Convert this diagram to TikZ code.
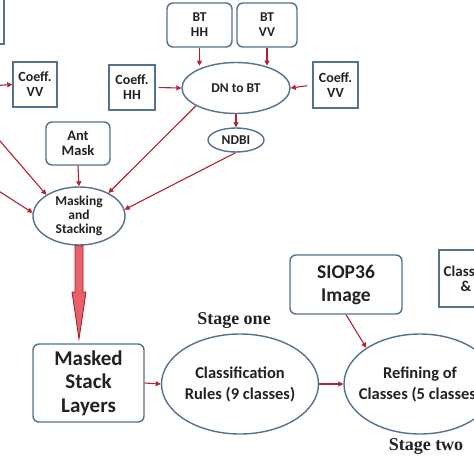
\documentclass[tikz,border=0pt]{standalone}
\usepackage{fontspec}
\setmainfont{Carlito}
\newfontfamily\stagefont{Liberation Serif}
\usetikzlibrary{arrows.meta,shapes.geometric,calc}
\definecolor{boxblue}{RGB}{84,114,142}
\definecolor{linkred}{RGB}{178,34,52}
\definecolor{fatred}{RGB}{232,96,106}
\definecolor{txt}{RGB}{34,34,34}

\begin{document}
\begin{tikzpicture}[x=1pt,y=-1pt,
  rbox/.style={draw=boxblue,line width=1.4pt,rounded corners=6pt,fill=white,align=center,inner sep=0pt,text=txt},
  sbox/.style={draw=boxblue,line width=1.4pt,fill=white,align=center,inner sep=0pt,text=txt},
  oval/.style={draw=boxblue,line width=1.4pt,ellipse,fill=white,align=center,inner sep=0pt,text=txt},
  link/.style={draw=linkred,line width=1.1pt,-{Triangle[length=5pt,width=5pt]}},
  fs/.style={font=\bfseries\fontsize{#1}{15}\selectfont}]
\useasboundingbox (0,0) rectangle (474,474);
\fill[white] (0,0) rectangle (474,474);
\clip (0,0) rectangle (474,474);

% top row
\node[rbox,fs=13.5,minimum width=65,minimum height=44] (bthh) at (199.5,25) {BT\\HH};
\node[rbox,fs=13.5,minimum width=60,minimum height=44] (btvv) at (267,25) {BT\\VV};
\node[oval,fs=13.5,minimum width=108,minimum height=51] (dnbt) at (236,88) {DN to BT};
\node[sbox,fs=14,minimum width=46,minimum height=45] (coeffhh) at (132,87.5) {Coeff.\\HH};
\node[sbox,fs=14,minimum width=45,minimum height=46] (coeffvv) at (335.5,85) {Coeff.\\VV};
\node[sbox,fs=14,minimum width=44,minimum height=45] (leftvv) at (35,84.5) {Coeff.\\VV};
\node[sbox,minimum width=60,minimum height=50] (leftbox) at (-26,19) {};
\node[oval,fs=13.5,minimum width=56,minimum height=24] (ndbi) at (236,140) {NDBI};
\node[rbox,fs=14.5,minimum width=64,minimum height=43] (antmask) at (78,143.5) {Ant\\Mask};
\node[oval,font=\bfseries\fontsize{13.5}{14}\selectfont,minimum width=92,minimum height=58] (masking) at (79,216) {Masking\\and\\Stacking};

% lower row
\node[rbox,font=\bfseries\fontsize{21}{23.5}\selectfont,minimum width=111,minimum height=78] (layers) at (88.5,383) {Masked\\Stack\\Layers};
\node[oval,font=\bfseries\fontsize{16.5}{21}\selectfont,minimum width=157,minimum height=100,inner xsep=-3pt] (rules) at (240,384) {Classification\\Rules (9 classes)};
\node[oval,font=\bfseries\fontsize{16.5}{21}\selectfont,minimum width=152,minimum height=100,inner xsep=-11pt] (refine) at (420,384) {Refining of\\Classes (5 classes)};
\node[rbox,font=\bfseries\fontsize{19.5}{23}\selectfont,minimum width=112,minimum height=59] (siop) at (346,284.5) {SIOP36\\Image};
\node[sbox,fs=15,minimum width=54,minimum height=57] (classes) at (466,278.5) {Classes\\\&};
\node[font=\stagefont\bfseries\fontsize{18}{20}\selectfont,text=txt] (stageone) at (234,321) {Stage one};
\node[font=\stagefont\bfseries\fontsize{18}{20}\selectfont,text=txt] (stagetwo) at (426,447) {Stage two};

% free ends of links from the left
\coordinate (in1) at (-10,86);
\coordinate (in2) at (-6,134);
\coordinate (in3) at (-6,188);

% links
\draw[link] (bthh.south) -- ++(0,18);
\draw[link] (btvv.south) -- ++(0,18);
\draw[link,shorten <=3pt] (coeffhh.east) -- (dnbt.west);
\draw[link,shorten <=5pt] (coeffvv.west) -- (dnbt.east);
\draw[link] (dnbt.south) -- (ndbi.north);
\draw[link] (dnbt.204) -- (masking.38);
\draw[link] (ndbi.-92) -- (masking.8);
\draw[link] (antmask.south) -- (masking.north);
\draw[link] (in1) -- (leftvv.west);
\draw[link] (in2) -- (masking.147);
\draw[link] (in3) -- (masking.176);
\draw[link] (layers.east) -- (rules.west);
\draw[link] (rules.east) -- (refine.west);
\draw[link] (siop.south) -- (refine.146);

% fat arrow
\filldraw[fill=fatred,draw=linkred!85!black,line width=0.8pt]
  ($(masking.south)+(-4,0)$) -- ($(masking.south)+(4,0)$) -- (83,292) -- (86,292)
  -- (masking.south |- 0,339) -- (72,292) -- (75,292) -- cycle;
\end{tikzpicture}
\end{document}
